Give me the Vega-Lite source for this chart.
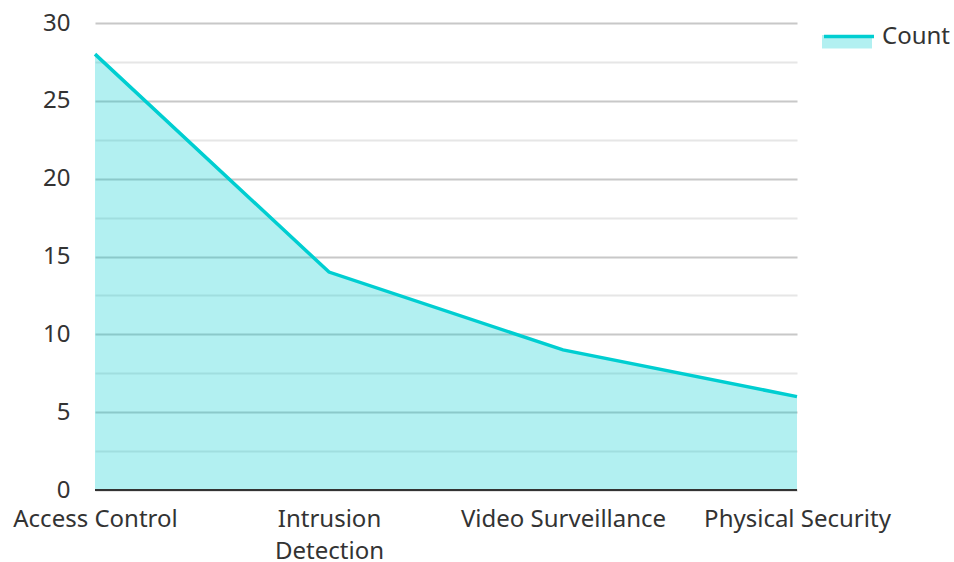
{
  "$schema": "https://vega.github.io/schema/vega-lite/v6.json",
  "autosize": {"type": "none"},
  "padding": {"left": 95, "top": 23, "right": 157, "bottom": 72},
  "width": 702,
  "height": 467,
  "config": {
    "font": "Noto Sans",
    "view": {"stroke": null},
    "axis": {"labelFont": "Noto Sans", "labelFontSize": 24, "labelColor": "#333333"}
  },
  "data": {"values": [
    {"category": "Access Control", "count": 28},
    {"category": "Intrusion Detection", "count": 14},
    {"category": "Video Surveillance", "count": 9},
    {"category": "Physical Security", "count": 6}
  ]},
  "encoding": {
    "x": {
      "field": "category", "type": "ordinal", "sort": null,
      "scale": {"type": "point", "padding": 0},
      "axis": {
        "title": null, "labelAngle": 0, "ticks": false, "domain": false, "grid": false,
        "labelPadding": 17, "labelLineHeight": 32, "labelBaseline": "top", "labelLimit": 0,
        "labelExpr": "datum.label == 'Intrusion Detection' ? ['Intrusion', 'Detection'] : datum.label"
      }
    },
    "y": {
      "field": "count", "type": "quantitative",
      "scale": {"domain": [0, 30], "nice": false},
      "axis": {
        "title": null, "values": [0, 2.5, 5, 7.5, 10, 12.5, 15, 17.5, 20, 22.5, 25, 27.5, 30],
        "labelExpr": "datum.value % 5 == 0 ? datum.label : ''",
        "ticks": false, "domain": false, "grid": true, "gridWidth": 2,
        "gridColor": {"condition": {"test": "datum.value % 5 == 0", "value": "#c8c8c8"}, "value": "#e6e6e6"},
        "labelPadding": 25
      }
    }
  },
  "layer": [
    {
      "mark": {"type": "area", "opacity": 0.3},
      "encoding": {
        "fill": {"datum": "Count", "type": "nominal", "scale": {"range": ["#00CED1"]}, "legend": {"title": null, "orient": "none", "legendX": 727, "legendY": -11, "padding": 0, "symbolType": "M-1,-0.08H1V0.46H-1Z", "symbolSize": 2500, "symbolStrokeWidth": 0, "symbolOpacity": 0.3, "labelFontSize": 24, "labelColor": "#333333", "labelFont": "Noto Sans", "labelOffset": 10}}
      }
    },
    {
      "mark": {"type": "rule", "color": "#333333", "strokeWidth": 2},
      "encoding": {"y": {"datum": 0, "type": "quantitative"}, "x": null}
    },
    {
      "mark": {"type": "line", "strokeWidth": 3.5},
      "encoding": {
        "stroke": {"datum": "Count", "type": "nominal", "scale": {"range": ["#00CED1"]}, "legend": {"title": null, "orient": "none", "legendX": 727, "legendY": -11, "padding": 0, "symbolType": "M-1,-0.1H1", "symbolSize": 2500, "symbolStrokeWidth": 3.5, "labelFontSize": 24, "labelExpr": "''", "labelFont": "Noto Sans", "labelOffset": 10}}
      }
    }
  ],
  "resolve": {"scale": {"fill": "independent", "stroke": "independent"}, "legend": {"fill": "independent", "stroke": "independent"}}
}
